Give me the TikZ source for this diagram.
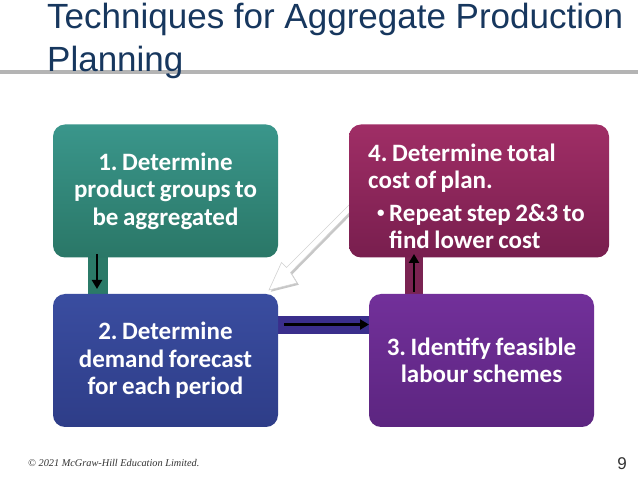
\documentclass[tikz,border=0pt]{standalone}
\usepackage{fontspec}
\setmainfont{Carlito}[WordSpace=0.8]
\newfontfamily\titlefont{Liberation Sans}
\newfontfamily\footfont{Liberation Serif}
\usetikzlibrary{arrows.meta}
\frenchspacing
\definecolor{titleblue}{HTML}{17375E}
\definecolor{tealtop}{HTML}{3A968B}
\definecolor{tealbot}{HTML}{2A7767}
\definecolor{bluetop}{HTML}{3A4DA0}
\definecolor{bluebot}{HTML}{2E3D88}
\definecolor{purtop}{HTML}{72309A}
\definecolor{purbot}{HTML}{5C2580}
\definecolor{martop}{HTML}{A02E66}
\definecolor{marbot}{HTML}{781E4E}
\definecolor{tealband}{HTML}{2B7A68}
\definecolor{indband}{HTML}{3A2E8C}
\definecolor{marband}{HTML}{7A2352}
\definecolor{rulegray}{HTML}{B4B4B4}
\definecolor{arrowgray}{HTML}{D2D2D2}
\tikzset{
  box/.style={rounded corners=12pt, draw=none, inner sep=0pt, minimum width=225pt, minimum height=133pt, text=white, align=flush center, text width=222pt, font=\bfseries\fontsize{25}{27.5}\selectfont},
  linetxt/.style={anchor=base west, inner sep=0pt, text=white, font=\bfseries\fontsize{25}{27.5}\selectfont},
  blkarrow/.style={line width=2.6pt, -{Triangle[length=9pt,width=10pt]}, black},
}
\begin{document}
\begin{tikzpicture}[x=1pt,y=-1pt]
\useasboundingbox (0,0) rectangle (638,478);
\fill[white] (0,0) rectangle (638,478);
% rule under title
\fill[rulegray] (0,70) rectangle (638,74.5);
% title
\node[anchor=base west, inner sep=0pt, text=titleblue, font=\titlefont\fontsize{35}{43}\selectfont] (title1) at (47,29) {Techniques for Aggregate Production};
\node[anchor=base west, inner sep=0pt, text=titleblue, font=\titlefont\fontsize{35}{43}\selectfont] (title2) at (47,72) {Planning};
% connector bands
\fill[tealband] (88,250) rectangle (108,300);
\fill[indband] (270,316) rectangle (376,334);
\fill[marband] (405,250) rectangle (423,300);
% diagonal white block arrow (from box 4 back to box 2), with soft shadow
\fill[black!22, xshift=1.8pt, yshift=-1.8pt]
  (353.5,208.5) -- (290.5,272.5) -- (297,283) -- (269,290) -- (281.5,262.5) -- (286.5,267.5) -- (349.5,204.5) -- cycle;
\draw[arrowgray, fill=white, line width=0.6pt, line join=miter]
  (353.5,208.5) -- (290.5,272.5) -- (297,283) -- (269,290) -- (281.5,262.5) -- (286.5,267.5) -- (349.5,204.5) -- cycle;
% boxes
\node[box, top color=tealtop, bottom color=tealbot] (b1) at (165.5,191) {1. Determine\\product groups to\\be aggregated};
\node[box, top color=bluetop, bottom color=bluebot] (b2) at (165.5,360.5) {2. Determine\\demand forecast\\for each period};
\node[box, top color=purtop, bottom color=purbot] (b3) at (481.5,360.5) {3. Identify feasible\\labour schemes};
\node[box, minimum width=260pt, top color=martop, bottom color=marbot] (b4) at (479,191) {};
% box 4 text
\node[linetxt] (l4a) at (368,162) {4. Determine total};
\node[linetxt] (l4b) at (368,188.5) {cost of plan.};
\node[linetxt, font=\bfseries\fontsize{15}{18}\selectfont] (bul) at (377,218) {\textbullet};
\node[linetxt] (l4c) at (389,222) {Repeat step 2\&3 to};
\node[linetxt] (l4d) at (389,248.5) {find lower cost};
% black arrows
\coordinate (a1s) at (97,254);
\coordinate (a1e) at (97,289);
\draw[blkarrow] (a1s) -- (a1e);
\coordinate (a2s) at (284,324.5);
\coordinate (a2e) at (369,324.5);
\draw[blkarrow] (a2s) -- (a2e);
\coordinate (a3s) at (414,292);
\coordinate (a3e) at (414,254);
\draw[blkarrow] (a3s) -- (a3e);
% footer
\node[anchor=base west, inner sep=0pt, text=black!80, font=\footfont\itshape\fontsize{10.3}{12}\selectfont] (foot) at (28,467) {© 2021 McGraw-Hill Education Limited.};
\node[anchor=base east, inner sep=0pt, text=black!80, font=\titlefont\fontsize{17}{20}\selectfont] (pnum) at (627,470) {9};
\end{tikzpicture}
\end{document}
